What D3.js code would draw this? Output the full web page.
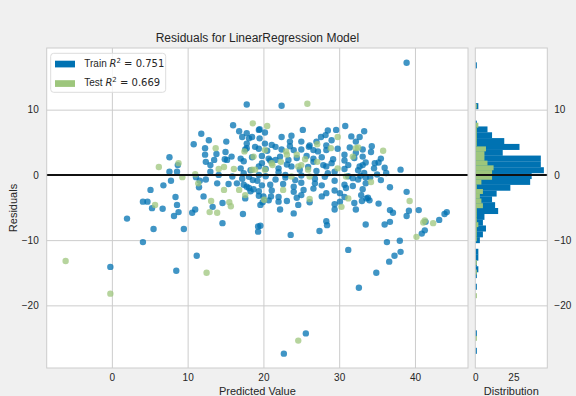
<!DOCTYPE html>
<html>
<head>
<meta charset="utf-8">
<script src="https://cdn.jsdelivr.net/npm/d3@7"></script>
<style>
  body { margin: 0; background: #f0f0f0; }
  svg { display: block; font-family: "Liberation Sans", Arial, sans-serif; }
</style>
</head>
<body>
<svg id="chart"></svg>
<script>
"use strict";

// ==========================
// data
// ==========================
var trainPoints = [
  [38.9,17.2],[17.8,10.8],[22.4,10.6],
  [-0.2,-14.1],[4.1,-10.3],[5.5,-8.3],[9.5,-8.3],[8.5,-14.7],[11.2,-12.4],
  [14.6,-7.4],[19.3,-7.9],[19.6,-7.8],[19.3,-8.7],[23.6,-9.2],[27.4,-8.6],[28.4,-7.7],[33.5,-7.6],[36.0,-7.6],[36.7,-7.2],
  [31.2,-11.5],[36.3,-10.3],[38.0,-10.1],[38.1,-11.8],[37.3,-12.4],[36.6,-13.3],[34.9,-15.0],[32.6,-17.3],
  [25.6,-24.3],[22.7,-27.4],
  [40.9,-9.0],[41.3,-8.5],[43.2,-6.9],[41.4,-7.2],[43.9,-6.0],[44.2,-5.7],
  [33.3,6.7],[32.7,5.8],[34.3,4.4],[34.2,3.5],[35.5,2.5],[35.2,1.9],[34.7,1.8],[33.5,1.9],[33.1,1.5],[32.7,1.3],
  [34.6,1.0],[36.0,1.1],[36.2,0.3],[38.1,0.8],[35.0,0.05],[32.8,-0.15],[34.1,-0.35],[35.5,-0.8],[33.5,-1.3],[36.7,-1.9],
  [38.9,-2.6],[32.9,-3.1],[33.0,-4.0],[33.8,-3.5],[34.0,-3.9],[35.2,-4.4],[36.7,-5.4],[37.1,-5.8],[39.2,-5.5],[38.9,-6.3],[40.5,-5.4],
  [11.8,6.3],[12.8,5.3],[15.1,5.1],[10.8,4.7],[12.3,4.1],[15.0,3.5],[16.0,7.6],[16.8,6.7],[7.6,2.7],[8.7,1.5],
  [7.6,0.5],[8.6,0.5],[7.8,-0.9],[6.8,-1.6],[5.1,-2.3],[4.1,-4.1],[4.7,-4.1],[5.3,-5.1],[6.7,-5.2],[8.4,-3.4],
  [8.6,-4.6],[8.8,-5.7],[8.2,-6.3],[2.0,-6.7],[10.6,-5.8],[11.0,-5.3],[13.3,-4.9],[14.6,-4.3],[17.3,-6.0],[12.1,-3.3],
  [11.5,-1.9],[11.1,-0.35],[11.6,-0.9],[12.4,-0.7],[13.0,0.5],[13.5,2.3],[12.4,2.0],[12.3,3.1],[13.8,3.2],[14.9,2.4],
  [15.8,2.8],[14.1,0.0],[15.9,-0.25],[15.4,-1.4],[13.9,-1.3],[16.5,-1.3],[17.8,-1.8],[17.4,0.25],[18.6,-0.8],[18.3,-2.5],
  [19.4,-3.2],[19.9,-4.2],[21.0,-3.3],[19.4,6.9],[18.5,5.8],[19.5,5.6],[17.8,4.8],[17.6,3.9],[18.9,4.3],[20.2,4.8],
  [20.7,2.5],[19.8,1.8],[17.0,2.5],[15.2,2.3],[13.0,1.5],
  [19.5,7.0],[20.2,6.5],[25.2,6.9],[30.8,7.5],[29.6,6.9],[28.5,6.8],[22.4,5.8],[23.5,5.1],[27.6,5.8],[32.2,5.1],
  [29.0,5.3],[27.0,5.1],[26.0,4.3],[25.0,5.1],[21.1,4.6],[24.0,3.8],[26.6,3.8],[28.3,3.8],[30.7,3.1],[31.2,1.5],
  [29.0,1.8],[27.9,1.5],[26.6,2.5],[23.7,1.3],[21.6,2.3],[22.0,1.0],[17.8,4.1],[19.4,0.0],[22.9,0.0],[28.5,0.25],
  [31.8,-0.5],[18.1,-2.0],[19.4,-2.5],[20.9,-1.5],[24.0,-1.8],[25.3,-2.3],[25.0,-3.1],[26.8,-1.3],[28.3,-2.8],[30.1,-2.8],
  [30.7,-1.5],[30.9,-2.0],[30.1,-4.1],[29.4,-5.3],[28.3,-7.1],[24.6,-4.6],[24.0,-5.9],[22.0,-4.1],[22.2,-5.3],[20.0,-3.3],
  [32.2,-5.3],[33.6,-3.6],[17.2,5.8],[17.8,6.4],
  [18.1,5.6],[23.7,6.0],[28.2,6.1],[31.6,5.9],
  [19.4,4.0],[20.5,3.7],[21.6,4.3],[22.4,3.9],[23.5,4.4],[25.0,3.9],[26.1,4.5],[27.2,3.6],[28.3,4.5],[29.8,4.0],[31.4,4.2],[32.2,3.4],[33.1,3.9],
  [17.4,2.1],[18.5,2.7],[19.8,2.9],[20.9,2.2],[22.2,2.8],[23.3,2.3],[24.4,2.6],[25.7,2.9],[26.6,2.0],[27.7,2.7],[29.2,2.4],[30.7,2.2],[32.0,2.6],[33.1,2.8],
  [17.0,1.0],[18.3,0.7],[19.4,1.3],[20.3,0.9],[22.0,0.4],[23.1,1.6],[24.8,0.8],[25.9,1.2],[27.0,0.6],[28.3,1.3],[29.4,0.5],[30.7,0.9],[32.5,0.7],[33.3,0.3],
  [17.2,-0.6],[18.1,-0.3],[19.2,-0.9],[20.3,-0.2],[21.6,-0.7],[22.9,-0.4],[24.2,-0.8],[25.0,-0.1],[26.8,-0.6],[28.1,-0.3],[29.4,-0.9],[31.2,-0.2],[32.5,-0.7],[33.5,-0.4],
  [17.4,-1.5],[18.7,-2.2],[19.8,-1.6],[21.1,-2.4],[22.6,-1.4],[24.0,-2.6],[25.0,-1.2],[26.6,-2.1],[27.7,-1.6],[29.4,-2.4],[31.8,-1.7],[33.1,-2.2],
  [17.6,-3.6],[19.6,-4.6],[20.7,-3.9],[22.0,-3.4],[23.1,-4.0],[24.4,-3.5],[26.1,-4.2],[27.7,-3.3],[29.4,-4.5],[30.7,-3.4],[32.0,-4.3]
];

var testPoints = [
  [-6.1,-13.2],[-0.2,-18.2],[12.5,-15.0],[24.6,-25.4],[25.8,10.9],
  [40.2,-9.5],[41.1,-7.3],[42.4,-7.4],[41.3,-7.0],
  [39.3,-4.0],[32.5,4.2],[35.8,3.7],[34.2,-1.1],
  [18.6,7.9],[20.5,7.5],[13.7,4.1],[8.8,1.8],[6.2,1.2],[9.3,-0.35],[5.7,-4.6],[13.1,-4.0],[12.9,-5.7],[13.9,-5.8],
  [15.7,-4.8],[15.5,-4.2],[11.0,0.1],[11.4,-1.3],[14.1,0.9],[14.8,1.2],[16.1,0.9],[14.8,-2.3],[16.8,-2.3],[18.9,0.8],
  [17.6,-3.1],[20.1,-3.8],[17.5,3.6],[20.2,3.8],[21.1,1.8],[18.7,2.8],
  [29.8,5.8],[28.9,4.1],[27.1,4.7],[23.0,3.6],[23.1,3.1],[24.4,3.1],[25.5,2.4],[31.8,2.8],[32.2,4.1],[29.8,1.0],
  [27.1,2.0],[25.0,1.5],[24.6,1.3],[25.9,0.8],[22.3,2.0],[21.2,1.5],[18.5,0.8],[20.2,0.8],[23.7,-0.25],[26.1,-0.25],
  [30.9,-0.25],[22.6,-2.3],[31.2,-3.6],[30.3,-4.9],[26.1,-3.7]
];

// 50 bins each, from the lowest to the highest residual
var trainBinRange = [-27.4, 17.25];
var trainCounts = [1,0,0,1,0,0,0,0,0,0, 0,1,0,1,2,1,2,2,0,3, 5,7,5,6,15,13,11,14,23,36,
                   37,45,43,43,18,29,19,11,8,1, 0,0,2,0,0,0,0,0,0,1];
var testBinRange = [-25.4, 10.9];
var testCounts = [1,0,0,0,0,0,0,0,0,1, 0,0,0,0,1,0,1,0,0,0, 0,1,1,1,2,1,1,1,5,4,
                  3,5,1,4,11,11,12,8,6,6, 7,1,1,1,1,2,0,0,0,1];

var trainR2 = "0.751", testR2 = "0.669";
var xTicks = [0, 10, 20, 30, 40],
    yTicks = [10, 0, -10, -20],
    histTicks = [0, 25];

var trainColor = "#0072B2", testColor = "#9DC67C";

// ==========================
// layout
// ==========================
var width = 576, height = 396;
var main = { left: 46.7, right: 468, top: 48, bottom: 368 },
    hist = { left: 475.3, right: 547.3 };

var x = d3.scaleLinear().domain([-8.6, 47.0]).range([main.left, main.right]),
    y = d3.scaleLinear().domain([-29.6, 19.45]).range([main.bottom, main.top]),
    hx = d3.scaleLinear().domain([0, 47.25]).range([hist.left, hist.right]);

var svg = d3.select("#chart").attr("width", width).attr("height", height);

svg.append("rect").attr("width", width).attr("height", height).attr("fill", "#f0f0f0");
svg.append("rect").attr("x", main.left).attr("y", main.top).attr("width", main.right - main.left).attr("height", main.bottom - main.top).attr("fill", "white");
svg.append("rect").attr("x", hist.left).attr("y", main.top).attr("width", hist.right - hist.left).attr("height", main.bottom - main.top).attr("fill", "white");

function styleAxis(g, gridColor) {
  g.select(".domain").remove();
  g.selectAll("line").attr("stroke", gridColor || "#cccccc").attr("stroke-width", 1);
  g.selectAll("text").attr("fill", "#262626").style("font-size", "10px").style("font-family", "'Liberation Sans', Arial, sans-serif");
}

// ==========================
// axes + grid
// ==========================
svg.append("g").attr("transform", "translate(0," + main.bottom + ")")
  .call(d3.axisBottom(x).tickValues(xTicks).tickSize(-(main.bottom - main.top)).tickPadding(6))
  .call(styleAxis);

svg.append("g").attr("transform", "translate(" + main.left + ",0)")
  .call(d3.axisLeft(y).tickValues(yTicks).tickSize(-(main.right - main.left)).tickPadding(8))
  .call(styleAxis);

svg.append("g").attr("transform", "translate(0," + main.bottom + ")")
  .call(d3.axisBottom(hx).tickValues(histTicks).tickSize(0).tickPadding(6))
  .call(styleAxis);

svg.append("g").attr("transform", "translate(" + hist.right + ",0)")
  .call(d3.axisRight(y).tickValues(yTicks).tickSize(-(hist.right - hist.left)).tickPadding(7))
  .call(styleAxis);

// ==========================
// scatter
// ==========================
function drawPoints(points, color) {
  svg.append("g").selectAll("circle").data(points).enter().append("circle")
    .attr("cx", function (d) { return x(d[0]); })
    .attr("cy", function (d) { return y(d[1]); })
    .attr("r", 3.2)
    .attr("fill", color)
    .attr("fill-opacity", 0.75);
}
drawPoints(trainPoints, trainColor);
drawPoints(testPoints, testColor);

// ==========================
// histogram
// ==========================
function drawHist(counts, range, color) {
  var w = (range[1] - range[0]) / counts.length;
  svg.append("g").selectAll("rect").data(counts).enter().append("rect")
    .attr("x", hx(0))
    .attr("y", function (d, i) { return y(range[0] + w * (i + 1)); })
    .attr("height", function (d, i) { return y(range[0] + w * i) - y(range[0] + w * (i + 1)) + 0.2; })
    .attr("width", function (d) { return hx(d) - hx(0); })
    .attr("fill", color);
}
drawHist(trainCounts, trainBinRange, trainColor);
drawHist(testCounts, testBinRange, testColor);

// zero lines
svg.append("line").attr("x1", main.left).attr("x2", main.right).attr("y1", y(0)).attr("y2", y(0))
  .attr("stroke", "#111111").attr("stroke-width", 2);
svg.append("line").attr("x1", hist.left).attr("x2", hist.right).attr("y1", y(0)).attr("y2", y(0))
  .attr("stroke", "#111111").attr("stroke-width", 2);

// frames
[[main.left, main.right], [hist.left, hist.right]].forEach(function (p) {
  svg.append("rect").attr("x", p[0]).attr("y", main.top).attr("width", p[1] - p[0]).attr("height", main.bottom - main.top)
    .attr("fill", "none").attr("stroke", "#cccccc").attr("stroke-width", 1);
});

// ==========================
// legend
// ==========================
var legend = svg.append("g").attr("transform", "translate(50.7,53.3)");
legend.append("rect").attr("width", 115).attr("height", 39).attr("rx", 3)
  .attr("fill", "white").attr("fill-opacity", 0.8).attr("stroke", "#dddddd");

[["Train", trainR2, trainColor], ["Test", testR2, testColor]].forEach(function (e, i) {
  var row = legend.append("g").attr("transform", "translate(0," + (i * 19.5) + ")");
  row.append("rect").attr("x", 4.3).attr("y", 7.4).attr("width", 20).attr("height", 6.7).attr("fill", e[2]);
  var t = row.append("text").attr("x", 33.6).attr("y", 13.4).attr("fill", "#262626").style("font-size", "10px");
  t.append("tspan").text(e[0] + " ");
  t.append("tspan").style("font-family", "'DejaVu Sans'").style("font-style", "italic").text("R");
  t.append("tspan").style("font-family", "'DejaVu Sans'").style("font-size", "7px").attr("dy", -4).text("2");
  t.append("tspan").style("font-family", "'DejaVu Sans'").attr("dy", 4).text(" = " + e[1]);
});

// ==========================
// titles
// ==========================
svg.append("text").attr("x", (main.left + main.right) / 2).attr("y", 42)
  .attr("text-anchor", "middle").attr("fill", "#262626").style("font-size", "12px")
  .text("Residuals for LinearRegression Model");

svg.append("text").attr("x", (main.left + main.right) / 2).attr("y", 395)
  .attr("text-anchor", "middle").attr("fill", "#262626").style("font-size", "11px")
  .text("Predicted Value");

svg.append("text").attr("x", (hist.left + hist.right) / 2).attr("y", 395)
  .attr("text-anchor", "middle").attr("fill", "#262626").style("font-size", "11px")
  .text("Distribution");

svg.append("text").attr("transform", "translate(17," + (main.top + main.bottom) / 2 + ") rotate(-90)")
  .attr("text-anchor", "middle").attr("fill", "#262626").style("font-size", "11px")
  .text("Residuals");
</script>
</body>
</html>
